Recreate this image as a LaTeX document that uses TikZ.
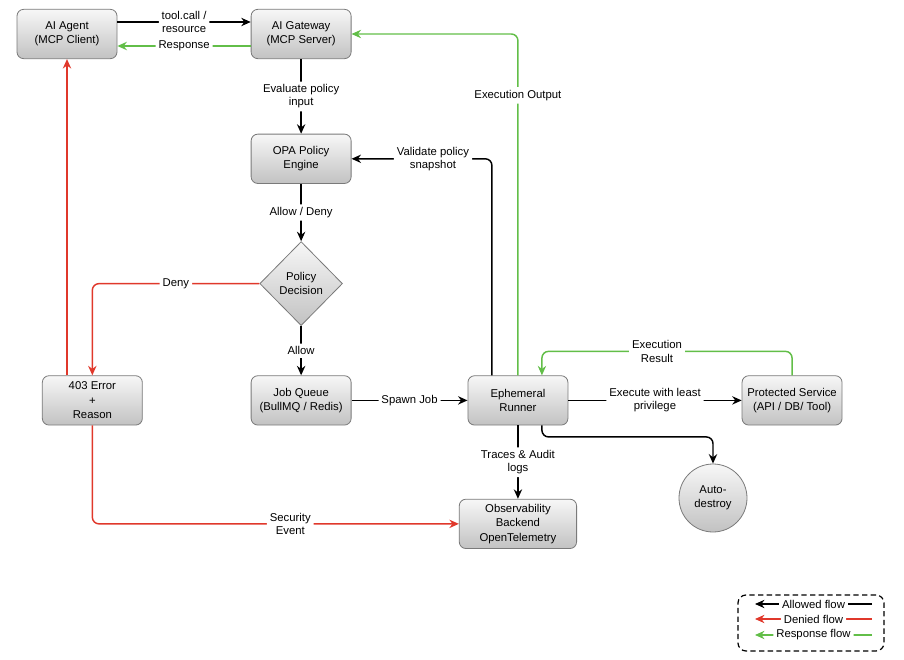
\documentclass[tikz,border=0pt]{standalone}
\usepackage{fontspec}
\setsansfont{Liberation Sans}
\usepackage{xcolor}
\usepackage{tikz}
\usetikzlibrary{shapes.geometric, arrows.meta, positioning}
\definecolor{boxedge}{HTML}{7A7A7A}
\definecolor{boxtop}{HTML}{F7F7F7}
\definecolor{boxbottom}{HTML}{C2C2C2}
\definecolor{denyred}{HTML}{E0382B}
\definecolor{respgreen}{HTML}{62BE48}

\begin{document}
\begin{tikzpicture}[
  x=0.75pt, y=0.75pt,
  box/.style={rectangle, draw=boxedge, line width=0.6pt, rounded corners=5pt, top color=boxtop, bottom color=boxbottom, minimum width=75pt, minimum height=37pt, inner sep=2pt, align=center, font=\sffamily\fontsize{8.5}{10.8}\selectfont},
  decision/.style={diamond, draw=boxedge, line width=0.6pt, top color=boxtop, bottom color=boxbottom, minimum width=62pt, minimum height=63pt, inner sep=0pt, align=center, font=\sffamily\fontsize{8.5}{10.8}\selectfont},
  endpoint/.style={circle, draw=boxedge, line width=0.6pt, top color=boxtop, bottom color=boxbottom, minimum size=51pt, inner sep=0pt, align=center, font=\sffamily\fontsize{8.5}{10.8}\selectfont},
  lbl/.style={fill=white, text=black, inner sep=2.2pt, align=center, font=\sffamily\fontsize{8.5}{10}\selectfont},
  allow/.style={-{Stealth[length=2.5mm, width=2.2mm]}, line width=1.1pt, color=black, rounded corners=5pt},
  deny/.style={allow, color=denyred},
  resp/.style={allow, color=respgreen}
]
  \useasboundingbox (0,0) rectangle (904,-660);

  \node[box] (agent) at (67,-34) {AI Agent\\(MCP Client)};
  \node[box, right=100pt of agent] (gateway) {AI Gateway\\(MCP Server)};
  \node[box, below=56pt of gateway] (opa) {OPA Policy\\Engine};
  \node[decision, below=43pt of opa] (policy) {Policy\\Decision};
  \node[box, below=37pt of policy] (queue) {Job Queue\\(BullMQ / Redis)};
  \node[box, left=81pt of queue] (error) {403 Error\\+\\Reason};
  \node[box, right=87pt of queue] (runner) {Ephemeral\\Runner};
  \node[box, right=130pt of runner] (service) {Protected Service\\(API / DB/ Tool)};
  \node[box, minimum width=88pt, below=55pt of runner] (obs) {Observability\\Backend\\OpenTelemetry};
  \node[endpoint] (destroy) at (713,-498) {Auto-\\destroy};

  \draw[allow] ([yshift=9pt]agent.east) -- node[lbl]{tool.call /\\resource} ([yshift=9pt]gateway.west);
  \draw[resp] ([yshift=-9pt]gateway.west) -- node[lbl]{Response} ([yshift=-9pt]agent.east);
  \draw[allow] (gateway) -- node[lbl]{Evaluate policy\\input} (opa);
  \draw[allow] (opa) -- node[lbl]{Allow / Deny} (policy);
  \draw[allow] (policy) -- node[lbl]{Allow} (queue);
  \draw[deny] (policy.west) -| node[lbl, pos=0.25]{Deny} (error.north);
  \draw[deny] (error.north -| agent.south) -- (agent.south);
  \draw[deny] (error.south) |- node[lbl, pos=0.77]{Security\\Event} (obs.west);
  \draw[allow] (queue) -- node[lbl]{Spawn Job} (runner);
  \draw[allow] ([xshift=-19.5pt]runner.north) |- node[lbl, pos=0.71]{Validate policy\\snapshot} (opa.east);
  \draw[resp] (runner.north) |- node[lbl, pos=0.41]{Execution Output} (gateway.east);
  \draw[allow] (runner) -- node[lbl]{Execute with least\\privilege} (service);
  \draw[resp] (service.north) |- node[lbl, pos=0.77]{Execution\\Result} ([xshift=18pt, yshift=18pt]runner.north) -- ([xshift=18pt]runner.north);
  \draw[allow] (runner) -- node[lbl]{Traces \& Audit\\logs} (obs);
  \draw[allow] ([xshift=18pt]runner.south) |- ([yshift=20pt]destroy.north) -- (destroy.north);

  % legend
  \node[draw, dashed, dash pattern=on 4pt off 2.5pt, line width=0.9pt, rounded corners=6pt, minimum width=109.5pt, minimum height=42pt] (legend) at (811,-623) {};
  \coordinate (allowR) at (872,-604);
  \coordinate (allowL) at (755,-604);
  \coordinate (denyR) at (872,-619);
  \coordinate (denyL) at (755,-619);
  \coordinate (respR) at (872,-635);
  \coordinate (respL) at (755,-635);
  \draw[allow, line width=0.8pt] (allowR) -- node[lbl]{Allowed flow} (allowL);
  \draw[deny, line width=0.8pt] (denyR) -- node[lbl]{Denied flow} (denyL);
  \draw[resp, line width=0.8pt] (respR) -- node[lbl]{Response flow} (respL);
\end{tikzpicture}
\end{document}
